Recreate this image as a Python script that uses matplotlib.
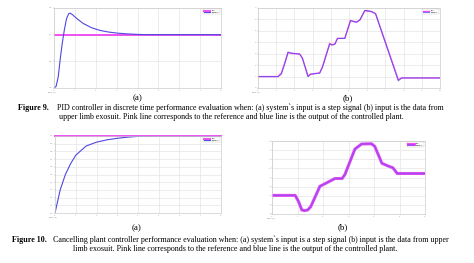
import matplotlib.pyplot as plt

W, H = 474, 263

# Fig 9 (a): step response, PID controller
t_step_pid = [0, 0.1, 0.2, 0.3, 0.4, 0.5, 0.6, 0.7, 0.77, 0.9, 1.1, 1.4, 1.8, 2.2, 2.6, 3.0, 3.5, 4.0, 4.5, 5, 6, 7, 8]
y_step_pid = [0, 0.03, 0.2, 0.55, 0.85, 1.1, 1.3, 1.39, 1.405, 1.37, 1.30, 1.21, 1.13, 1.08, 1.05, 1.03, 1.015, 1.005, 1.0, 1.0, 1.0, 1.0, 1.0]

# Fig 9 (b): exosuit data, PID controller
t_exo_pid = [0, 1.1, 1.28, 1.47, 1.65, 1.83, 2.29, 2.44, 2.75, 2.88, 3.39, 3.54, 3.94, 4.07, 4.22, 4.37,
             4.77, 5.08, 5.41, 5.6, 5.87, 6.24, 6.46, 7.71, 7.89, 10]
ref_exo_pid = [1.0, 1.0, 1.3, 2.2, 3.1, 3.03, 2.97, 2.6, 1.03, 1.21, 1.32, 1.85, 3.9, 3.78, 3.85, 4.35,
               4.35, 5.91, 5.76, 5.97, 6.76, 6.68, 6.5, 0.72, 0.88, 0.88]
out_exo_pid = [1.0, 1.0, 1.2, 2.1, 3.15, 3.05, 2.97, 2.62, 0.98, 1.2, 1.3, 1.8, 3.85, 3.75, 3.82, 4.32,
               4.33, 5.88, 5.75, 5.95, 6.8, 6.7, 6.5, 0.62, 0.88, 0.88]

# Fig 10 (a): step response, cancelling controller
t_step_cp = [0, 0.25, 0.5, 0.75, 1.0, 1.5, 2.0, 2.5, 3.0, 3.5, 4.0, 5.0, 6.0, 7.0, 8.0]
y_step_cp = [0, 0.3, 0.5, 0.64, 0.75, 0.87, 0.92, 0.95, 0.97, 0.985, 0.995, 1.0, 1.0, 1.0, 1.0]

# Fig 10 (b): exosuit data, cancelling controller
t_exo_cp = [0, 0.91, 1.04, 1.17, 1.27, 1.4, 1.52, 1.88, 2.14, 2.47, 2.75, 2.86, 3.25, 3.51, 3.9, 4.03,
            4.31, 4.55, 4.74, 4.91, 6]
y_exo_cp = [2.04, 2.04, 1.37, 0.44, 0.37, 0.44, 0.81, 3.04, 3.41, 3.89, 3.89, 4.33, 7.11, 7.67, 7.7, 7.41,
            5.56, 5.26, 5.07, 4.44, 4.44]

PINK = "#f050f0"
BLUE = "#5048e0"
PURPLE = "#a848f0"


def px_axes(fig, x0, y0, x1, y1):
    return fig.add_axes([x0 / W, 1 - y1 / H, (x1 - x0) / W, (y1 - y0) / H])


def style(ax, xmax, ymax, xstep, ystep):
    ax.set_xlim(0, xmax)
    ax.set_ylim(0, ymax)
    ax.set_xticks([i * xstep for i in range(int(round(xmax / xstep)) + 1)])
    ax.set_yticks([i * ystep for i in range(int(round(ymax / ystep)) + 1)])
    ax.tick_params(labelsize=1.5, colors="#999999", length=1, width=0.3, pad=0.5)
    ax.grid(True, color="#e4e4e4", linewidth=0.5)
    for s in ax.spines.values():
        s.set_color("#cccccc")
        s.set_linewidth(0.5)
    leg = ax.legend(loc="upper right", fontsize=1.5, handlelength=3, frameon=True,
                    borderpad=0.4, labelspacing=0.2)
    leg.get_frame().set_linewidth(0.3)
    leg.get_frame().set_edgecolor("#bbbbbb")
    ax.text(-0.04, -0.06, "Time (s)", transform=ax.transAxes, fontsize=1.5, color="#888888")


fig = plt.figure(figsize=(W / 100, H / 100), dpi=100)

ax = px_axes(fig, 54, 8, 221, 88)
ax.plot([0, 8], [1, 1], color=PINK, linewidth=1.4, label="Ref")
ax.plot(t_step_pid, y_step_pid, color=BLUE, linewidth=0.8, label="Output")
style(ax, 8, 1.5, 1, 0.5)

ax = px_axes(fig, 258, 8, 440, 88)
ax.plot(t_exo_pid, ref_exo_pid, color=PINK, linewidth=1.0, label="Ref")
ax.plot(t_exo_pid, out_exo_pid, color=BLUE, linewidth=0.7, alpha=0.75, label="Output")
style(ax, 10, 7, 1, 1)

ax = px_axes(fig, 55, 136, 221, 213)
ax.plot([0, 8], [1, 1], color=PINK, linewidth=1.4, label="Ref", clip_on=False)
ax.plot(t_step_cp, y_step_cp, color=BLUE, linewidth=0.8, label="Output")
style(ax, 8, 1, 1, 0.1)

ax = px_axes(fig, 272, 141, 425, 214)
ax.plot(t_exo_cp, y_exo_cp, color=PINK, linewidth=2.2, label="Ref")
ax.plot(t_exo_cp, y_exo_cp, color=PURPLE, linewidth=1.2, label="Output")
style(ax, 6, 8, 1, 1)

serif = ["Liberation Serif", "DejaVu Serif"]
fs = 5.8


def ftext(x, y, s, **kw):
    fig.text(x / W, 1 - y / H, s, family=serif, fontsize=kw.pop("size", fs), va="center", **kw)


ftext(138, 98, "(a)", ha="center", size=6.5)
ftext(348, 98, "(b)", ha="center", size=6.5)
ftext(18, 108, "Figure 9.", weight="bold")
ftext(57, 108, "PID controller in discrete time performance evaluation when: (a) system`s input is a step signal (b) input is the data from")
ftext(59, 117, "upper limb exosuit. Pink line corresponds to the reference and blue line is the output of the controlled plant.")

ftext(137, 228, "(a)", ha="center", size=6.5)
ftext(343, 227, "(b)", ha="center", size=6.5)
ftext(12, 240, "Figure 10.", weight="bold")
ftext(53, 240, "Cancelling plant controller performance evaluation when: (a) system`s input is a step signal (b) input is the data from upper")
ftext(73, 249, "limb exosuit. Pink line corresponds to the reference and blue line is the output of the controlled plant.")

fig.savefig("out.png", dpi=100)
